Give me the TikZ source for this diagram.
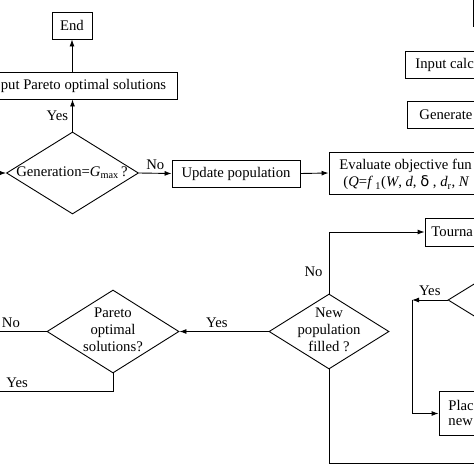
\documentclass[tikz,border=0pt]{standalone}
\usepackage{fontspec}
\setmainfont{Liberation Serif}
\newfontfamily\dvs{DejaVu Sans}
\usetikzlibrary{shapes.geometric,arrows.meta}
\begin{document}
\begin{tikzpicture}[x=1pt,y=-1pt,
  font=\fontsize{14.7}{17}\selectfont,
  line width=0.9pt,
  box/.style={draw, rectangle, inner sep=0pt},
  dia/.style={draw, diamond, inner sep=0pt},
  txt/.style={inner sep=0pt},
  arr/.style={-{Latex[length=7pt,width=5pt]}},
]
\useasboundingbox (0,0) rectangle (474,474);
\clip (0,0) rectangle (474,474);

% partial elements at the top right
\coordinate (topa) at (473,0);
\coordinate (topb) at (473,27);
\draw (topa) -- (topb);
\node[box, minimum width=195pt, minimum height=27pt] (inp) at (502.5,64.5) {};
\node[txt, anchor=west] (inpt) at (415,64.5) {Input calc};
\node[box, minimum width=193pt, minimum height=27pt] (gener) at (503.5,114.5) {};
\node[txt, anchor=west] (genert) at (419,114.5) {Generate};

% left column
\node[box, minimum width=40pt, minimum height=27pt] (endb) at (72,25.5) {End};
\node[box, minimum width=187pt, minimum height=27pt] (out) at (83.5,85.5) {put Pareto optimal solutions};
\node[dia, minimum width=132pt, minimum height=82pt] (gen) at (72.5,173) {};
\node[txt] (gent) at (72,173) {Generation=\textit{G}\textsubscript{max}\,?};
\coordinate (genin) at (-10,173);

\node[box, minimum width=128pt, minimum height=27pt] (upd) at (236,173.5) {Update population};
\node[box, minimum width=271pt, minimum height=42pt] (eval) at (464.5,173) {};
\node[txt, anchor=west] (evt1) at (339,165.5) {Evaluate objective fun};
\node[txt, anchor=west] (evt2) at (343,183) {(\textit{Q}=\textit{f}\,\textsubscript{1}(\textit{W}, \textit{d}, {\dvs δ} , \textit{d}\textsubscript{r}, \textit{N}};

\node[box, minimum width=175pt, minimum height=28pt] (tour) at (512.5,232) {};
\node[txt, anchor=west] (tourt) at (431,232) {Tourna};

\node[dia, minimum width=120pt, minimum height=75pt] (newd) at (329,331.5) {};
\node[txt, align=center] (newt) at (329,330) {New\\population\\filled ?};

\node[dia, minimum width=132pt, minimum height=83pt] (par) at (113,331.5) {};
\node[txt, align=center] (part) at (113,330) {Pareto\\optimal\\solutions?};
\coordinate (parno) at (-10,331.5);
\coordinate (paryes) at (-10,391);

\node[dia, minimum width=120pt, minimum height=74pt] (rd) at (508,300) {};
\coordinate (corner) at (412,300);
\node[box, minimum width=161pt, minimum height=44pt] (place) at (519.5,413.5) {};
\node[txt, anchor=west] (plt1) at (448,405) {Plac};
\node[txt, anchor=west] (plt2) at (448,422) {new};
\coordinate (bot) at (490,463);

% connectors
\draw[arr] (endb.south |- out.north) -- (endb.south);
\draw[arr] (gen.north) -- (gen.north |- out.south) node[midway, left, inner sep=4pt] {Yes};
\draw[arr] (gen.east) -- (upd.west) node[midway, above, inner sep=3pt] {No};
\draw[arr] (genin) -- (gen.west);
\draw[arr] (upd.east) -- (eval.west);
\draw[arr] (newd.north) |- (tour.west) node[pos=0.18, left, inner sep=6pt] {No};
\draw[arr] (newd.west) -- (par.east) node[pos=0.58, above, inner sep=3pt] {Yes};
\draw (par.west) -- (parno) node[pos=0.63, above, inner sep=3pt] {No};
\draw (par.south) |- (paryes) node[pos=0.89, above, inner sep=3pt] {Yes};
\draw (newd.south) |- (bot);
\draw[arr] (rd.west) -- (corner) node[midway, above, inner sep=4pt] {Yes};
\draw[arr] (corner) |- (place.west);
\end{tikzpicture}
\end{document}
